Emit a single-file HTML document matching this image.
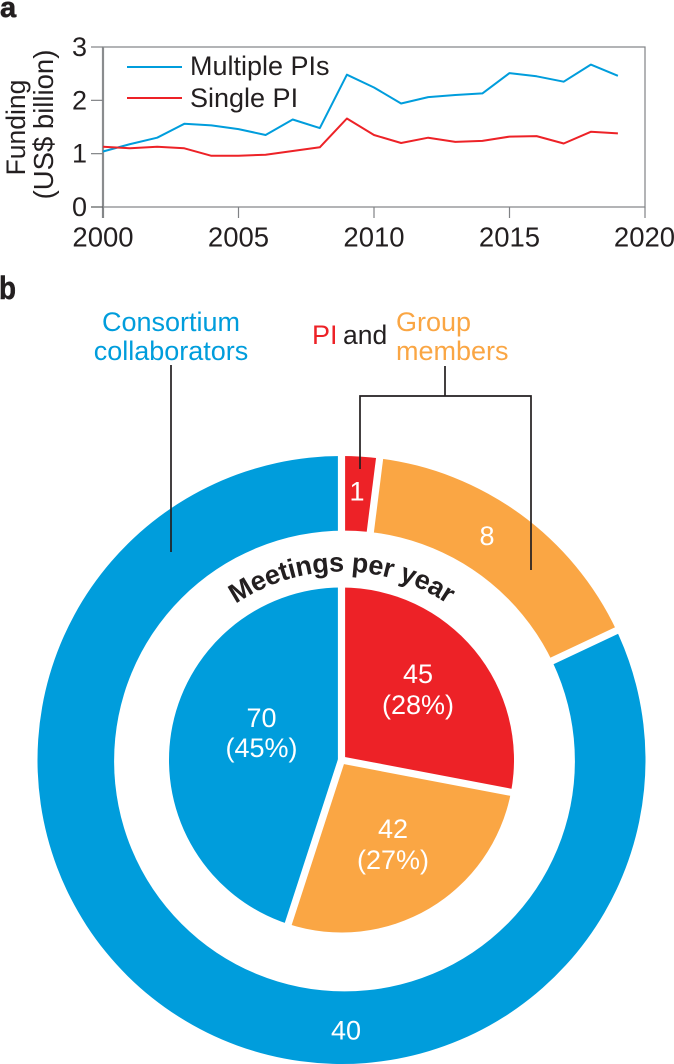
<!DOCTYPE html>
<html>
<head>
<meta charset="utf-8">
<title>Funding and meetings per year</title>
<style>
html,body{margin:0;padding:0;background:#fff;}
svg{display:block;}
text{font-family:"Liberation Sans",sans-serif;}
</style>
</head>
<body>
<svg id="fig" xmlns="http://www.w3.org/2000/svg" width="674" height="1064" viewBox="0 0 674 1064">
  <text x="0" y="17" font-size="29" font-weight="bold" fill="#231f20" stroke="#231f20" stroke-width="0.6">a</text>
  <text x="-1" y="299" font-size="32" font-weight="bold" fill="#231f20" stroke="#231f20" stroke-width="0.5" textLength="17" lengthAdjust="spacingAndGlyphs">b</text>

  <g id="chart"></g>

  <text transform="translate(25,127.5) rotate(-90)" text-anchor="middle" font-size="26.5" fill="#231f20">Funding</text>
  <text transform="translate(53,124.5) rotate(-90)" text-anchor="middle" font-size="27.5" fill="#231f20">(US$ billion)</text>

  <line x1="127" x2="182" y1="67" y2="67" stroke="#009ddc" stroke-width="2"/>
  <text x="190" y="75" font-size="27" fill="#231f20">Multiple PIs</text>
  <line x1="127" x2="182" y1="98" y2="98" stroke="#ed2227" stroke-width="2"/>
  <text x="190" y="107" font-size="27" fill="#231f20">Single PI</text>

  <g id="donut"></g>

  <g fill="none" stroke="#231f20" stroke-width="1.7">
    <path d="M171 365V552"/>
    <path d="M445 366V396M360 469V396H531V570"/>
  </g>

  <text x="171" y="331" text-anchor="middle" font-size="27" fill="#009ddc">Consortium</text>
  <text x="171" y="360" text-anchor="middle" font-size="27" fill="#009ddc">collaborators</text>
  <text x="312" y="344" font-size="27" fill="#ed2227">PI</text>
  <text x="343" y="344" font-size="26.5" fill="#231f20">and</text>
  <text x="396" y="331" font-size="27" fill="#faa644">Group</text>
  <text x="396" y="360" font-size="27" fill="#faa644">members</text>

  <path id="titleArc" d="M 153 760 A 188.5 188.5 0 0 1 530 760" fill="none"/>
  <text font-size="27" font-weight="bold" fill="#231f20" text-anchor="middle" letter-spacing="-0.3"><textPath href="#titleArc" startOffset="50%">Meetings per year</textPath></text>

  <g font-size="27" fill="#fff" text-anchor="middle">
    <text x="357" y="500.5">1</text>
    <text x="487" y="545">8</text>
    <text x="346" y="1039.5">40</text>
    <text x="418" y="683">45</text>
    <text x="418" y="714">(28%)</text>
    <text x="393" y="838">42</text>
    <text x="393" y="869">(27%)</text>
    <text x="261.5" y="727">70</text>
    <text x="261.5" y="757">(45%)</text>
  </g>
</svg>
<script>
var years = [2000,2001,2002,2003,2004,2005,2006,2007,2008,2009,2010,2011,2012,2013,2014,2015,2016,2017,2018,2019];
var multiplePIs = [1.04,1.18,1.30,1.56,1.53,1.46,1.35,1.64,1.48,2.48,2.24,1.94,2.06,2.10,2.13,2.51,2.45,2.35,2.67,2.46];
var singlePI = [1.13,1.10,1.13,1.10,0.96,0.96,0.98,1.05,1.12,1.66,1.35,1.20,1.30,1.22,1.24,1.32,1.33,1.19,1.41,1.38];
var xTicks = [2000,2005,2010,2015,2020];
var yTicks = [0,1,2,3];
var outerShares = [2,16,82];
var innerShares = [28,27,45];
var sliceNames = ['pi','group','consortium'];
var sliceColors = ['#ed2227','#faa644','#009ddc'];

var NS = 'http://www.w3.org/2000/svg';
function make(parent, tag, attrs) {
  var el = document.createElementNS(NS, tag);
  for (var k in attrs) el.setAttribute(k, attrs[k]);
  parent.appendChild(el);
  return el;
}
function xScale(v) { return 103 + (v - 2000) * (645 - 103) / 20; }
function yScale(v) { return 207 - v * (207 - 47) / 3; }

var chart = document.getElementById('chart');
var frame = make(chart, 'rect', {x: xScale(2000), y: yScale(3), width: xScale(2020) - xScale(2000), height: yScale(0) - yScale(3), fill: 'none', stroke: '#808285', 'stroke-width': 1.2});


var spine = make(chart, 'line', {x1: xScale(2000), x2: xScale(2000), y1: yScale(3), y2: yScale(0) + 11, stroke: '#8a8c8e', 'stroke-width': 2.2});



xTicks.forEach(function (t) {
  var tick = make(chart, 'line', {x1: xScale(t), x2: xScale(t), y1: yScale(0), y2: yScale(0) + 11, stroke: '#808285', 'stroke-width': 1.2});
  
  
  var label = make(chart, 'text', {x: Math.min(xScale(t), 644.5), y: 246.5, 'text-anchor': 'middle', 'font-size': 27.5, fill: '#231f20'});
  
  
  label.textContent = t;
});
yTicks.forEach(function (t) {
  var tick = make(chart, 'line', {x1: xScale(2000) - 12, x2: xScale(2000), y1: yScale(t), y2: yScale(t), stroke: t === 0 ? '#58595b' : '#808285', 'stroke-width': 1.2});
  
  
  var label = make(chart, 'text', {x: 87, y: yScale(t) + 9, 'text-anchor': 'end', 'font-size': 27, fill: '#231f20'});
  
  
  label.textContent = t;
});
function linePoints(series) {
  return series.map(function (v, i) { return xScale(years[i]).toFixed(1) + ',' + yScale(v).toFixed(1); }).join(' ');
}
var lineMultiple = make(chart, 'polyline', {points: linePoints(multiplePIs), fill: 'none', stroke: '#009ddc', 'stroke-width': 2, 'stroke-linejoin': 'round'});


var lineSingle = make(chart, 'polyline', {points: linePoints(singlePI), fill: 'none', stroke: '#ed2227', 'stroke-width': 2, 'stroke-linejoin': 'round'});



var cx = 341.5, cy = 760;
function polar(r, deg) {
  var a = deg * Math.PI / 180;
  return [cx + r * Math.sin(a), cy - r * Math.cos(a)];
}
function sum(arr) { return arr.reduce(function (a, b) { return a + b; }, 0); }
function slicePath(r1, a0, a1) {
  var big = (a1 - a0) > 180 ? 1 : 0;
  var p0 = polar(r1, a0), p1 = polar(r1, a1);
  return 'M' + cx + ' ' + cy + 'L' + p0[0] + ' ' + p0[1] + 'A' + r1 + ' ' + r1 + ' 0 ' + big + ' 1 ' + p1[0] + ' ' + p1[1] + 'Z';
}
function drawPie(values, r1, prefix, gapWidth) {
  var donut = document.getElementById('donut');
  var total = sum(values), acc = 0, bounds = [];
  values.forEach(function (v, i) {
    var a0 = acc / total * 360;
    acc += v;
    var a1 = acc / total * 360;
    var slice = make(donut, 'path', {d: slicePath(r1, a0, a1), fill: sliceColors[i]});
    
    
    bounds.push(a1);
  });
  bounds.forEach(function (a) {
    var p1 = polar(r1 + 3, a);
    var gap = make(donut, 'line', {x1: cx, y1: cy, x2: p1[0], y2: p1[1], stroke: '#fff', 'stroke-width': gapWidth});
    
    
  });
}
drawPie(outerShares, 304, 'outer', 7.2);
var hole = make(document.getElementById('donut'), 'circle', {cx: 344.5, cy: 761, r: 230.4, fill: '#fff'});


drawPie(innerShares, 172.5, 'inner', 7.2);
</script>
</body>
</html>
